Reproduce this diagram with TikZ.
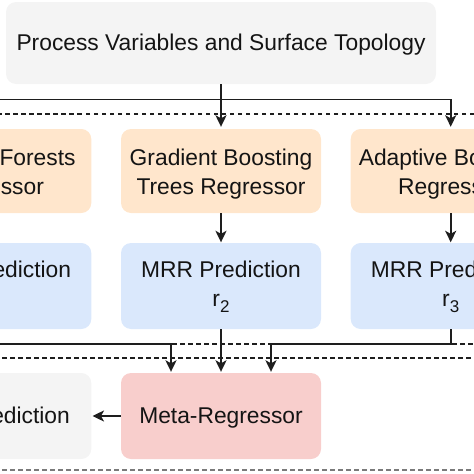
\documentclass[tikz,border=0pt]{standalone}
\usepackage{fontspec}
\setmainfont{Liberation Sans}
\usetikzlibrary{arrows.meta}
\definecolor{gry}{HTML}{F4F4F4}
\definecolor{org}{HTML}{FFE6CC}
\definecolor{blu}{HTML}{DAE8FC}
\definecolor{pnk}{HTML}{F8CECC}
\definecolor{ln}{HTML}{1E1E1E}
\definecolor{lngray}{HTML}{7A7A7A}
\definecolor{txt}{HTML}{141414}
\newcommand\rsub[1]{r\raisebox{-5.6pt}{\fontsize{17}{17}\selectfont #1}}
\begin{document}
\begin{tikzpicture}[x=1pt,y=-1pt,
  box/.style={rounded corners=10pt, minimum width=200pt, inner sep=0pt, align=center,
    font=\fontsize{22.8}{28.6}\selectfont, text=txt},
  one/.style={box, minimum height=86pt, text height=18pt, text depth=3pt},
  two/.style={box, minimum height=84pt, text height=46.6pt, text depth=0pt},
  pred/.style={box, minimum height=86pt, text height=46.6pt, text depth=5.7pt},
  conn/.style={draw=ln, line width=1.9pt},
  arr/.style={conn, -{Stealth[length=11.5pt,width=11pt,inset=3pt]}},
  frame/.style={draw=ln, line width=1.5pt, dash pattern=on 4.5pt off 3.5pt}
]
\useasboundingbox (0,0) rectangle (474,474);
\clip (0,0) rectangle (474,474);
% dashed frames
\draw[frame] (-30,114) rectangle (520,344);
\draw[frame] (-30,358) -- (520,358);
\draw[frame, draw=lngray] (-30,470) -- (520,470);
% boxes
\node[one, fill=gry, minimum width=430pt, minimum height=82pt] (top) at (221,43) {Process Variables and Surface Topology};
\node[two, fill=org] (rf)  at (-8.7,171) {Random Forests\\Regressor};
\node[two, fill=org] (gbt) at (221,171) {Gradient Boosting\\Trees Regressor};
\node[two, fill=org] (ada) at (450.7,171) {Adaptive Boosting\\Regressor};
\node[pred, fill=blu] (p1) at (-8.7,286) {MRR Prediction\\\rsub{1}};
\node[pred, fill=blu] (p2) at (221,286) {MRR Prediction\\\rsub{2}};
\node[pred, fill=blu] (p3) at (450.7,286) {MRR Prediction\\\rsub{3}};
\node[one, fill=gry] (final) at (-8.7,416) {Final Prediction};
\node[one, fill=pnk] (meta) at (221,416) {Meta-Regressor};
% connectors
\coordinate (s1) at (221,99.5);
\coordinate (j) at (221,344);
\draw[conn] (top.south) -- (s1);
\draw[arr, shorten >=2pt] (s1) -- (gbt.north);
\draw[arr, shorten >=2pt] (s1) -| (rf.north);
\draw[arr, shorten >=2pt] (s1) -| (ada.north);
\draw[arr, shorten >=0.5pt] (rf.south) -- (p1.north);
\draw[arr, shorten >=0.5pt] (gbt.south) -- (p2.north);
\draw[arr, shorten >=0.5pt] (ada.south) -- (p3.north);
\draw[arr, shorten >=1pt] (p2.south) -- (meta.north);
\draw[arr, shorten >=1pt] (p1.south) -- (p1.south |- j) -| ([xshift=-50pt]meta.north);
\draw[arr, shorten >=1pt] (p3.south) -- (p3.south |- j) -| ([xshift=50pt]meta.north);
\draw[arr, shorten >=1pt] (meta.west) -- (final.east);
\end{tikzpicture}
\end{document}
